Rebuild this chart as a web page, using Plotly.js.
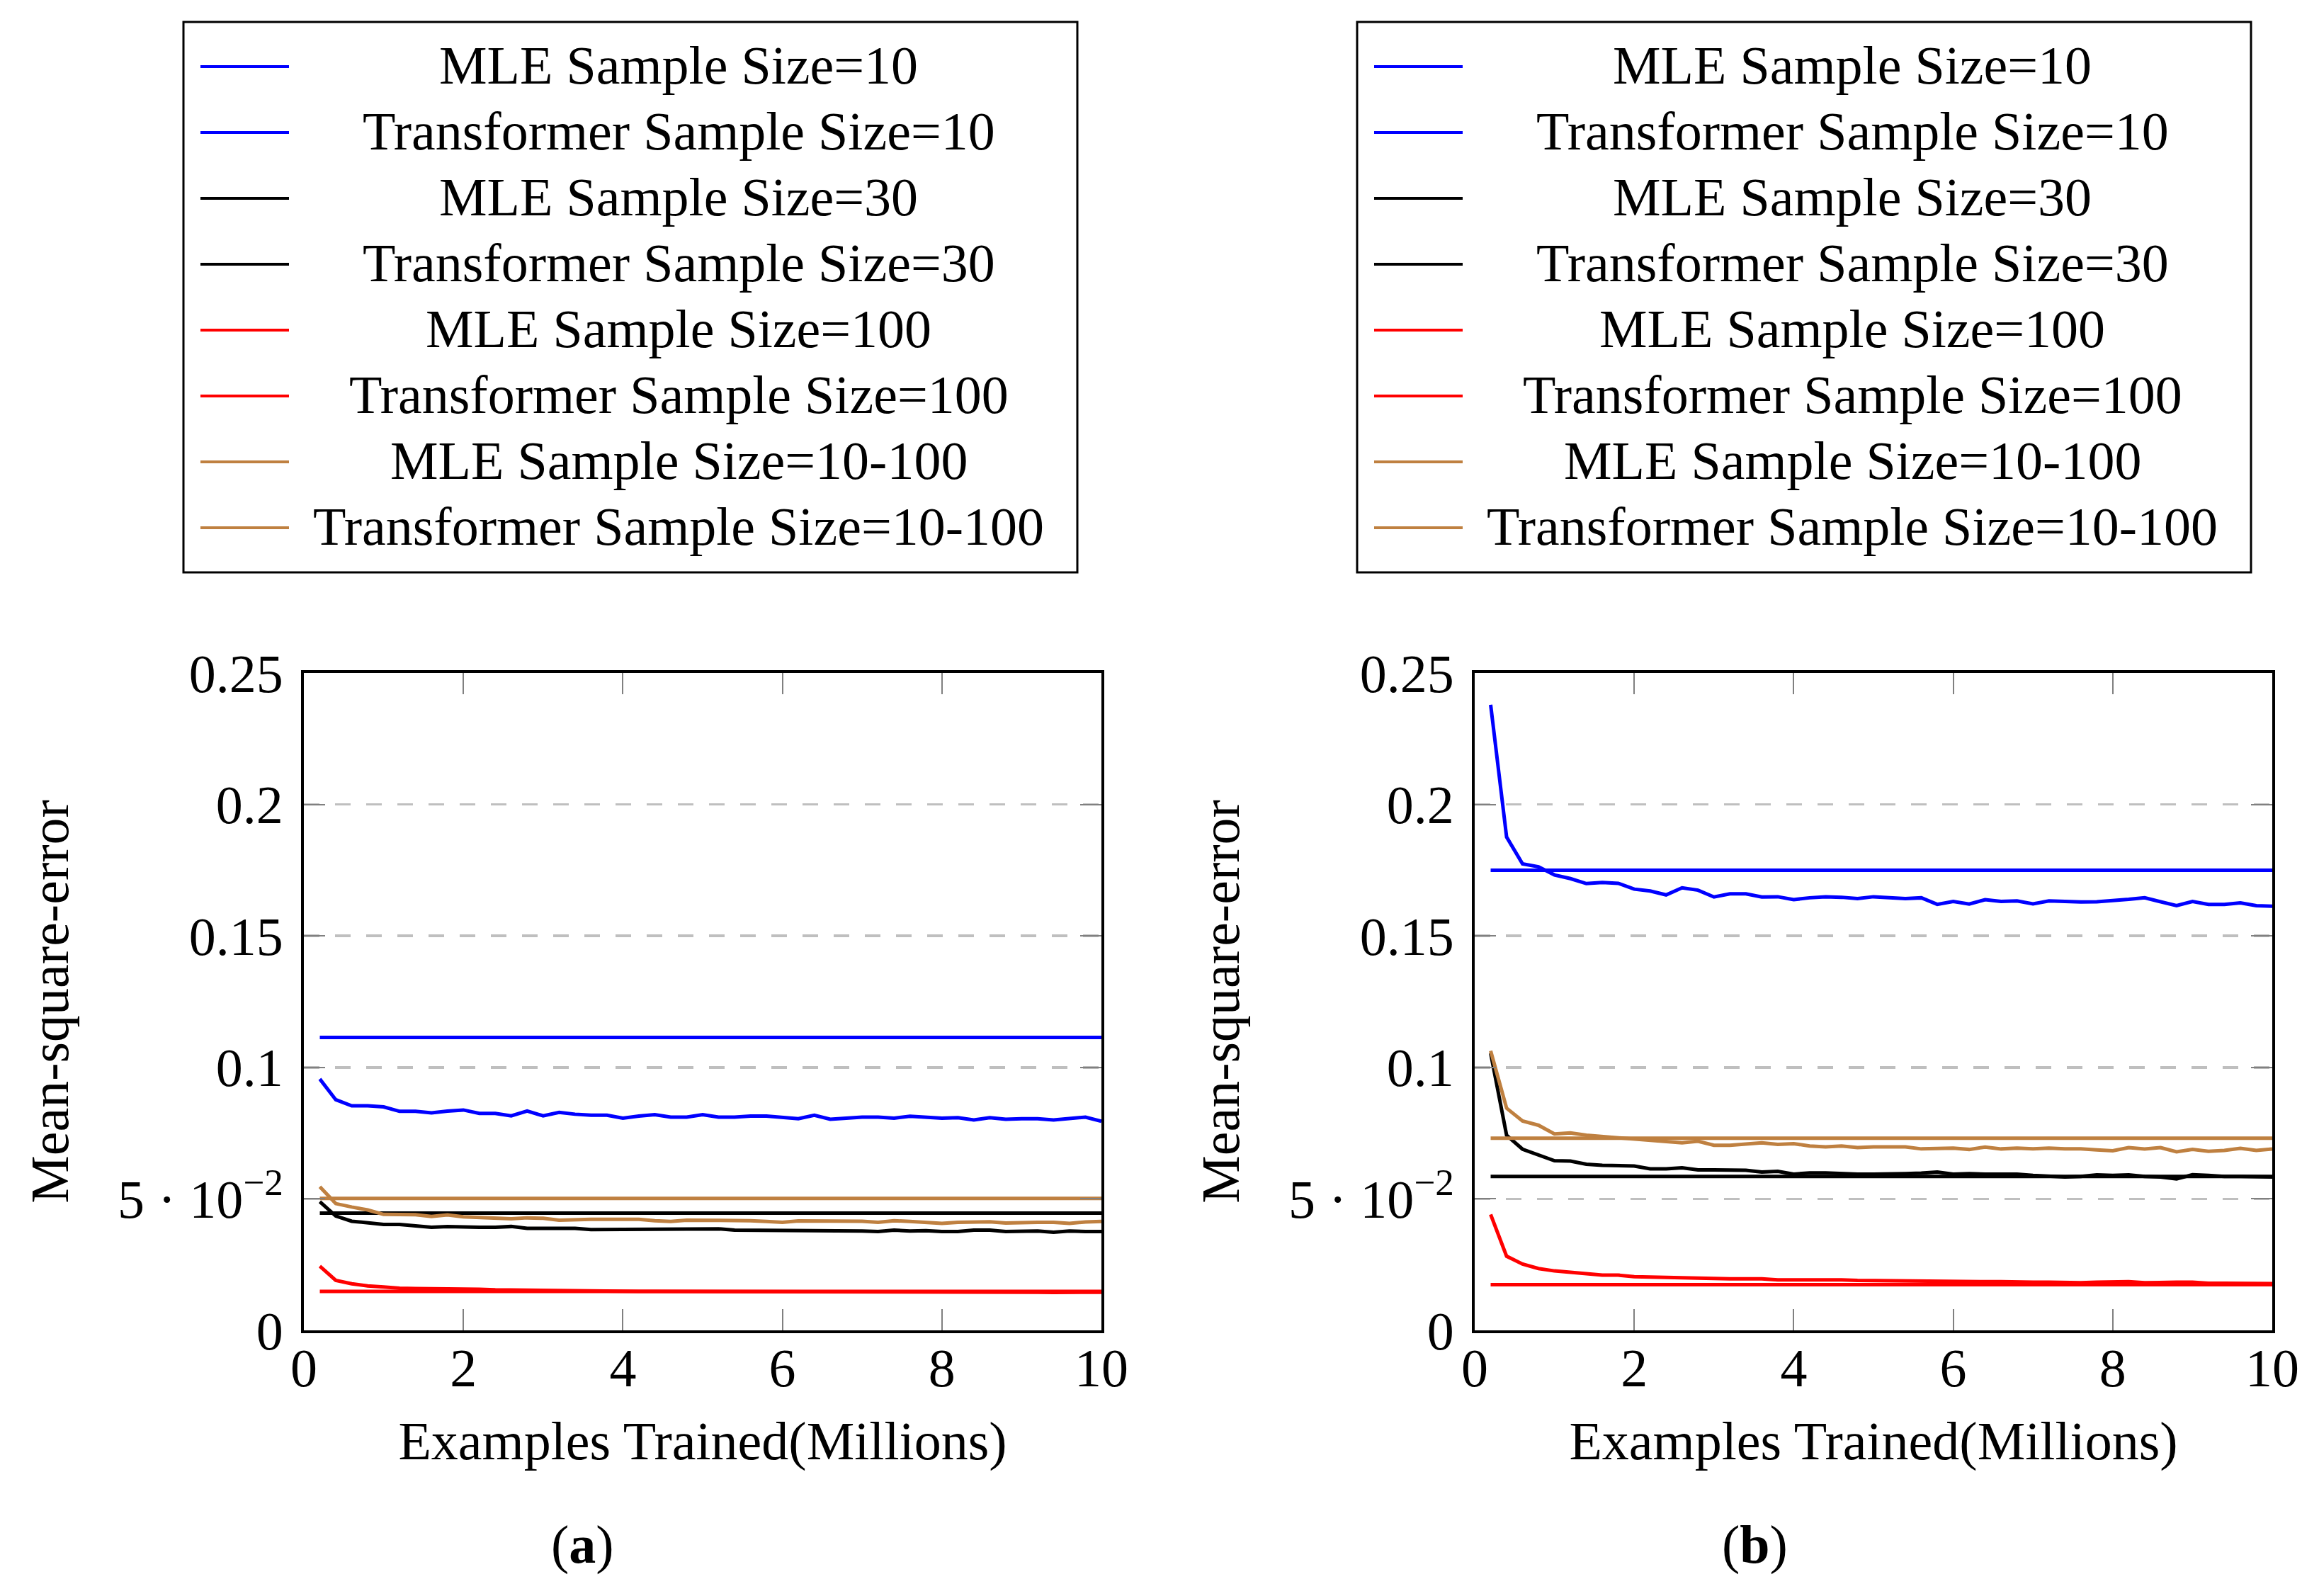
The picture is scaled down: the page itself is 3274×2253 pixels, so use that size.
<!DOCTYPE html>
<html>
<head>
<meta charset="utf-8">
<script src="https://cdn.plot.ly/plotly-3.0.1.min.js"></script>
<style>html,body{margin:0;padding:0;background:#fff}</style>
</head>
<body>
<div id="chart" style="width:3274px;height:2253px"></div>
<script>
// examples trained (millions), same grid for both panels
var steps = [0.2, 0.4, 0.6, 0.8, 1.0, 1.2, 1.4, 1.6, 1.8, 2.0,
	2.2, 2.4, 2.6, 2.8, 3.0, 3.2, 3.4, 3.6, 3.8, 4.0,
	4.2, 4.4, 4.6, 4.8, 5.0, 5.2, 5.4, 5.6, 5.8, 6.0,
	6.2, 6.4, 6.6, 6.8, 7.0, 7.2, 7.4, 7.6, 7.8, 8.0,
	8.2, 8.4, 8.6, 8.8, 9.0, 9.2, 9.4, 9.6, 9.8, 10.0];

var sizes = ['10', '30', '100', '10-100'];
var colors = ['#0000ff', '#000000', '#ff0000', '#bf8040'];

// MLE baselines, order as in sizes
var mle_a = [0.1114, 0.0446, 0.0148, 0.0502];
var mle_b = [0.1750, 0.0585, 0.0174, 0.0731];

// panel (a) transformer curves
var tr10_a = [0.0956, 0.0877, 0.0854, 0.0854, 0.0850, 0.0833, 0.0833, 0.0827, 0.0834, 0.0838,
	0.0825, 0.0825, 0.0816, 0.0834, 0.0816, 0.0829, 0.0822, 0.0818, 0.0818, 0.0807,
	0.0815, 0.0820, 0.0811, 0.0811, 0.0820, 0.0811, 0.0811, 0.0815, 0.0815, 0.0811,
	0.0805, 0.0818, 0.0803, 0.0807, 0.0811, 0.0811, 0.0807, 0.0814, 0.0811, 0.0807,
	0.0809, 0.0800, 0.0809, 0.0803, 0.0805, 0.0805, 0.0800, 0.0806, 0.0811, 0.0795];
var tr30_a = [0.0489, 0.0435, 0.0415, 0.0408, 0.0403, 0.0403, 0.0399, 0.0392, 0.0395, 0.0392,
	0.0392, 0.0392, 0.0395, 0.0388, 0.0388, 0.0386, 0.0388, 0.0383, 0.0383, 0.0383,
	0.0383, 0.0383, 0.0383, 0.0383, 0.0383, 0.0386, 0.0381, 0.0381, 0.0381, 0.0381,
	0.0381, 0.0379, 0.0378, 0.0378, 0.0378, 0.0376, 0.0381, 0.0378, 0.0379, 0.0376,
	0.0376, 0.0381, 0.0381, 0.0376, 0.0377, 0.0378, 0.0373, 0.0378, 0.0376, 0.0376];
var tr100_a = [0.0244, 0.0190, 0.0177, 0.0169, 0.0165, 0.0160, 0.0159, 0.0159, 0.0158, 0.0156,
	0.0156, 0.0154, 0.0153, 0.0153, 0.0152, 0.0151, 0.0150, 0.0150, 0.0149, 0.0149,
	0.0148, 0.0148, 0.0148, 0.0148, 0.0147, 0.0147, 0.0147, 0.0147, 0.0146, 0.0146,
	0.0146, 0.0146, 0.0146, 0.0146, 0.0146, 0.0146, 0.0146, 0.0146, 0.0146, 0.0146,
	0.0145, 0.0145, 0.0146, 0.0145, 0.0145, 0.0145, 0.0144, 0.0144, 0.0144, 0.0145];
var trmix_a = [0.0546, 0.0482, 0.0469, 0.0458, 0.0441, 0.0441, 0.0440, 0.0433, 0.0439, 0.0432,
	0.0429, 0.0426, 0.0424, 0.0428, 0.0426, 0.0419, 0.0422, 0.0422, 0.0422, 0.0422,
	0.0422, 0.0417, 0.0414, 0.0419, 0.0419, 0.0417, 0.0417, 0.0417, 0.0414, 0.0411,
	0.0416, 0.0416, 0.0413, 0.0413, 0.0415, 0.0411, 0.0417, 0.0414, 0.0410, 0.0407,
	0.0411, 0.0413, 0.0413, 0.0408, 0.0411, 0.0411, 0.0411, 0.0407, 0.0412, 0.0414];

// panel (b) transformer curves
var tr10_b = [0.2379, 0.1876, 0.1774, 0.1763, 0.1732, 0.1718, 0.1699, 0.1703, 0.1700, 0.1678,
	0.1671, 0.1656, 0.1683, 0.1674, 0.1648, 0.1660, 0.1660, 0.1648, 0.1649, 0.1638,
	0.1645, 0.1649, 0.1647, 0.1642, 0.1649, 0.1646, 0.1642, 0.1645, 0.1620, 0.1631,
	0.1621, 0.1638, 0.1631, 0.1633, 0.1622, 0.1633, 0.1630, 0.1629, 0.1630, 0.1633,
	0.1639, 0.1645, 0.1629, 0.1615, 0.1631, 0.1620, 0.1620, 0.1626, 0.1615, 0.1613];
var tr30_b = [0.1054, 0.0742, 0.0689, 0.0668, 0.0645, 0.0644, 0.0632, 0.0628, 0.0626, 0.0625,
	0.0614, 0.0614, 0.0618, 0.0610, 0.0610, 0.0609, 0.0609, 0.0602, 0.0605, 0.0594,
	0.0599, 0.0599, 0.0596, 0.0594, 0.0594, 0.0594, 0.0596, 0.0598, 0.0602, 0.0594,
	0.0596, 0.0594, 0.0594, 0.0594, 0.0589, 0.0587, 0.0583, 0.0585, 0.0591, 0.0589,
	0.0591, 0.0585, 0.0583, 0.0576, 0.0592, 0.0589, 0.0585, 0.0585, 0.0583, 0.0583];
var tr100_b = [0.0441, 0.0282, 0.0252, 0.0235, 0.0226, 0.0221, 0.0214, 0.0210, 0.0210, 0.0204,
	0.0203, 0.0201, 0.0201, 0.0199, 0.0198, 0.0196, 0.0196, 0.0196, 0.0192, 0.0192,
	0.0194, 0.0192, 0.0192, 0.0190, 0.0189, 0.0189, 0.0187, 0.0187, 0.0187, 0.0185,
	0.0185, 0.0185, 0.0185, 0.0183, 0.0183, 0.0183, 0.0181, 0.0181, 0.0183, 0.0185,
	0.0185, 0.0181, 0.0183, 0.0183, 0.0183, 0.0179, 0.0179, 0.0179, 0.0178, 0.0178];
var trmix_b = [0.1063, 0.0845, 0.0796, 0.0780, 0.0747, 0.0751, 0.0742, 0.0737, 0.0731, 0.0726,
	0.0724, 0.0716, 0.0713, 0.0719, 0.0704, 0.0704, 0.0710, 0.0713, 0.0707, 0.0710,
	0.0701, 0.0698, 0.0701, 0.0695, 0.0698, 0.0698, 0.0698, 0.0690, 0.0690, 0.0693,
	0.0688, 0.0697, 0.0690, 0.0693, 0.0690, 0.0693, 0.0690, 0.0690, 0.0686, 0.0683,
	0.0695, 0.0690, 0.0695, 0.0679, 0.0688, 0.0681, 0.0684, 0.0692, 0.0684, 0.0690];

var yTicks = [0, 0.05, 0.1, 0.15, 0.2, 0.25];
var yTickText = ['0', '5 \u00b7 10<sup>\u22122</sup>', '0.1', '0.15', '0.2', '0.25'];
var xTicks = [0, 2, 4, 6, 8, 10];

var W = 3274, H = 2253;
var FONT = 'Liberation Serif';
var FS = 76;

function px(x){ return x / W; }
function py(y){ return 1 - y / H; }

var traces = [];
var legendNames = [];
var legendColors = [];

function addPanel(xa, ya, mle, tr){
	for(var i = 0; i < sizes.length; i++){
		traces.push({
			x: [steps[0], steps[steps.length - 1]],
			y: [mle[i], mle[i]],
			xaxis: xa, yaxis: ya,
			type: 'scatter', mode: 'lines',
			name: 'MLE Sample Size=' + sizes[i],
			line: {color: colors[i], width: 5}
		});
		traces.push({
			x: steps,
			y: tr[i],
			xaxis: xa, yaxis: ya,
			type: 'scatter', mode: 'lines',
			name: 'Transformer Sample Size=' + sizes[i],
			line: {color: colors[i], width: 5}
		});
	}
}

addPanel('x', 'y', mle_a, [tr10_a, tr30_a, tr100_a, trmix_a]);
addPanel('x2', 'y2', mle_b, [tr10_b, tr30_b, tr100_b, trmix_b]);

for(var i = 0; i < sizes.length; i++){
	legendNames.push('MLE Sample Size=' + sizes[i], 'Transformer Sample Size=' + sizes[i]);
	legendColors.push(colors[i], colors[i]);
}

// panel placement, pixels
var plotLeft = [429, 2082];
var plotW = 1126;
var plotTop = 950, plotBot = 1878;

function xAxis(k){
	return {
		domain: [px(plotLeft[k]), px(plotLeft[k] + plotW)],
		anchor: k ? 'y2' : 'y',
		range: [0, 10],
		tickvals: xTicks,
		ticks: 'inside', ticklen: 30, tickwidth: 2, tickcolor: '#808080',
		mirror: 'allticks', showline: true, linewidth: 4, linecolor: '#000',
		showgrid: false, zeroline: false, fixedrange: true,
		ticklabelstandoff: -16,
		tickfont: {family: FONT, size: FS, color: '#000'},
		title: {text: 'Examples Trained(Millions)', font: {family: FONT, size: FS, color: '#000'}, standoff: 36}
	};
}

function yAxis(k){
	return {
		domain: [py(plotBot), py(plotTop)],
		anchor: k ? 'x2' : 'x',
		range: [0, 0.25],
		tickvals: yTicks, ticktext: yTickText,
		ticks: 'inside', ticklen: 30, tickwidth: 2, tickcolor: '#808080',
		mirror: 'allticks', showline: true, linewidth: 4, linecolor: '#000',
		showgrid: true, gridcolor: '#bfbfbf', gridwidth: 3.5, griddash: '22px,22px',
		zeroline: false, fixedrange: true,
		ticklabelstandoff: 10,
		tickfont: {family: FONT, size: FS, color: '#000'},
		title: {text: 'Mean-square-error', font: {family: FONT, size: FS, color: '#000'}, standoff: 45}
	};
}

// legend boxes drawn by hand so the text can be centred like the original
var shapes = [];
var annotations = [];
var legLeft = [259, 1916];
var legW = 1262, legTop = 31, legBot = 808;
var rowTop = 94, rowStep = 93;

for(var k = 0; k < 2; k++){
	var bx = legLeft[k];
	shapes.push({type: 'rect', xref: 'paper', yref: 'paper',
		x0: px(bx), x1: px(bx + legW), y0: py(legBot), y1: py(legTop),
		line: {color: '#000', width: 3}, fillcolor: '#fff', layer: 'below'});
	for(var r = 0; r < legendNames.length; r++){
		var ry = rowTop + r * rowStep;
		shapes.push({type: 'line', xref: 'paper', yref: 'paper',
			x0: px(bx + 24), x1: px(bx + 149), y0: py(ry), y1: py(ry),
			line: {color: legendColors[r], width: 4}});
		annotations.push({xref: 'paper', yref: 'paper', x: px(bx + 699), y: py(ry - 2),
			xanchor: 'center', yanchor: 'middle', showarrow: false,
			text: legendNames[r], font: {family: FONT, size: FS, color: '#000'}});
	}
}

var captions = ['(<b>a</b>)', '(<b>b</b>)'];
var capX = [822, 2477];
for(var k = 0; k < 2; k++){
	annotations.push({xref: 'paper', yref: 'paper', x: px(capX[k]), y: py(2180),
		xanchor: 'center', yanchor: 'middle', showarrow: false,
		text: captions[k], font: {family: FONT, size: FS, color: '#000'}});
}

var layout = {
	width: W, height: H,
	margin: {l: 0, r: 0, t: 0, b: 0},
	paper_bgcolor: '#fff', plot_bgcolor: '#fff',
	showlegend: false,
	xaxis: xAxis(0), yaxis: yAxis(0),
	xaxis2: xAxis(1), yaxis2: yAxis(1),
	shapes: shapes,
	annotations: annotations
};

Plotly.newPlot('chart', traces, layout, {displayModeBar: false, staticPlot: true});
</script>
</body>
</html>
